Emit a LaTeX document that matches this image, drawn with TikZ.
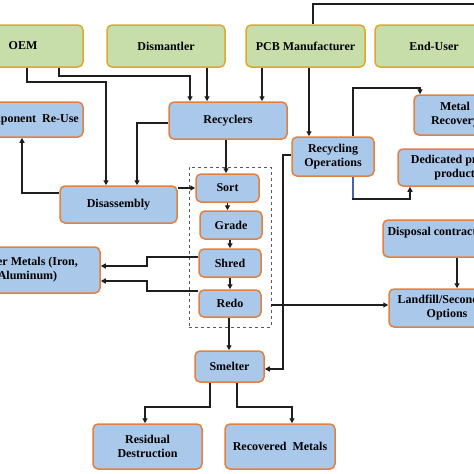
\documentclass[tikz,border=0pt]{standalone}
\usepackage{fontspec}
\setmainfont{Liberation Serif}
\usetikzlibrary{arrows.meta}
\definecolor{gfill}{RGB}{200,222,170}
\definecolor{gline}{RGB}{218,170,45}
\definecolor{bfill}{RGB}{170,200,234}
\definecolor{bline}{RGB}{228,128,62}
\definecolor{wire}{RGB}{30,30,30}
\definecolor{bluewire}{RGB}{70,100,170}
\tikzset{
  gbox/.style={draw=gline, fill=gfill, line width=1.5pt, rounded corners=5pt, align=center,
    font=\fontsize{12}{14}\selectfont\bfseries, inner sep=1pt},
  bbox/.style={draw=bline, fill=bfill, line width=1.5pt, rounded corners=5pt, align=center,
    font=\fontsize{12}{14}\selectfont\bfseries, inner sep=1pt},
  arr/.style={draw=wire, line width=1.6pt, -{Triangle[length=5pt,width=5pt]}},
  wireline/.style={draw=wire, line width=1.6pt},
  grpbox/.style={draw=gray!70!black, dashed, line width=0.7pt}
}
\begin{document}
\begin{tikzpicture}[x=1pt,y=-1pt]
\path[use as bounding box, clip] (0,0) rectangle (474,474);
\fill[white] (0,0) rectangle (474,474);
% dashed group
\node[grpbox, minimum width=82pt, minimum height=160pt] (grp) at (230,247) {};
% top row
\node[gbox, minimum width=120pt, minimum height=42pt] (oem) at (23,46) {OEM};
\node[gbox, minimum width=118pt, minimum height=42pt] (dism) at (166,46) {Dismantler};
\node[gbox, minimum width=119pt, minimum height=42pt] (pcb) at (305.5,46) {PCB Manufacturer};
\node[gbox, minimum width=118pt, minimum height=42pt] (enduser) at (434,46) {End-User};
% blue boxes
\node[bbox, minimum width=111pt, minimum height=35pt] (cru) at (27.5,119.5) {Component\ \ Re-Use};
\node[bbox, minimum width=118pt, minimum height=37pt] (rec) at (228,120.5) {Recyclers};
\node[bbox, minimum width=117pt, minimum height=37pt] (dis) at (118.5,204.5) {Disassembly};
\node[bbox, minimum width=63pt, minimum height=28pt] (sort) at (227.5,188) {Sort};
\node[bbox, minimum width=62pt, minimum height=28pt] (grade) at (231,225) {Grade};
\node[bbox, minimum width=62pt, minimum height=28pt] (shred) at (230,263) {Shred};
\node[bbox, minimum width=62pt, minimum height=27pt] (redo) at (230,303.5) {Redo};
\node[bbox, minimum width=145pt, minimum height=46pt] (metals) at (27.5,270) {Other Metals (Iron,\\Aluminum)};
\node[bbox, minimum width=82pt, minimum height=39pt] (ops) at (333,156.5) {Recycling\\Operations};
\node[bbox, minimum width=82pt, minimum height=40pt] (mrec) at (455,115) {Metal\\Recovery};
\node[bbox, minimum width=118pt, minimum height=37pt] (ded) at (457,167.5) {Dedicated process\\products};
\node[bbox, minimum width=114pt, minimum height=37pt] (disp) at (440,238.5) {Disposal contractors\\\mbox{}};
\node[bbox, minimum width=116pt, minimum height=38pt] (land) at (447,308) {Landfill/Secondary\\Options};
\node[bbox, minimum width=69pt, minimum height=31pt] (smelt) at (229.5,366.5) {Smelter};
\node[bbox, minimum width=109pt, minimum height=45pt] (resid) at (147.5,446.5) {Residual\\Destruction};
\node[bbox, minimum width=110pt, minimum height=45pt] (recov) at (280,446.5) {Recovered\ \ Metals};
\coordinate (offR) at (490,4);
% connectors
\draw[arr] ([xshift=4pt]oem.south) -- ++(0,14) -| ([xshift=-12.5pt]dis.north);
\draw[arr] ([xshift=36pt]oem.south) -- ++(0,8) -| ([xshift=-38pt]rec.north);
\draw[arr] ([xshift=41pt]dism.south) -- ([xshift=-21pt]rec.north);
\draw[arr] ([xshift=-43.5pt]pcb.south) -- ([xshift=34pt]rec.north);
\draw[arr] ([xshift=3.5pt]pcb.south) -- ([xshift=-24pt]ops.north);
\draw[wireline] ([xshift=7.5pt]pcb.north) |- (offR);
\draw[arr] ([yshift=-2.5pt]rec.west) -| ([xshift=18.5pt]dis.north);
\draw[arr] ([xshift=-2pt]rec.south) -- ([xshift=-1.5pt]sort.north);
\draw[arr] ([yshift=11.5pt]dis.west) -| ([xshift=-5.5pt]cru.south);
\draw[arr] ([yshift=16.5pt]dis.east) -- (sort.west);
\draw[arr] (sort.south) -- (sort.south |- grade.north);
\draw[arr] ([xshift=-1pt]grade.south) -- ([xshift=-1pt]grade.south |- shred.north);
\draw[arr] (shred.south) -- (shred.south |- redo.north);
\draw[arr] ([xshift=-1pt]redo.south) -- ([xshift=-1pt]redo.south |- smelt.north);
\draw[arr] ([yshift=6pt]shred.west) -- ++(-51,0) |- ([yshift=4pt]metals.east);
\draw[arr] ([yshift=12.5pt]redo.west) -- ++(-51,0) |- ([yshift=-11pt]metals.east);
\draw[arr] ([yshift=-1.5pt]redo.east -| grp.east) -- ([yshift=-1.5pt]redo.east -| land.west);
\draw[arr] ([xshift=20pt]ops.north) -- ++(0,-48) -| ([xshift=-35pt]mrec.north);
\coordinate (bend) at ([xshift=20pt,yshift=-22pt]ops.south);
\draw[draw=bluewire, line width=1.6pt] ([xshift=20pt]ops.south) -- (bend);
\draw[arr] ([xshift=-0.7pt]bend) -| ([xshift=-47pt]ded.south);
\draw[arr] ([yshift=1.5pt]ops.west) -- ++(-8,0) |- ([yshift=-2.5pt]smelt.east);
\draw[arr] ([xshift=17pt]disp.south) -- ([xshift=10pt]land.north);
\draw[arr] ([xshift=-19.5pt]smelt.south) -- ++(0,24) -| ([xshift=-2.5pt]resid.north);
\draw[arr] ([xshift=7.5pt]smelt.south) -- ++(0,24) -| ([xshift=12pt]recov.north);
\end{tikzpicture}
\end{document}
